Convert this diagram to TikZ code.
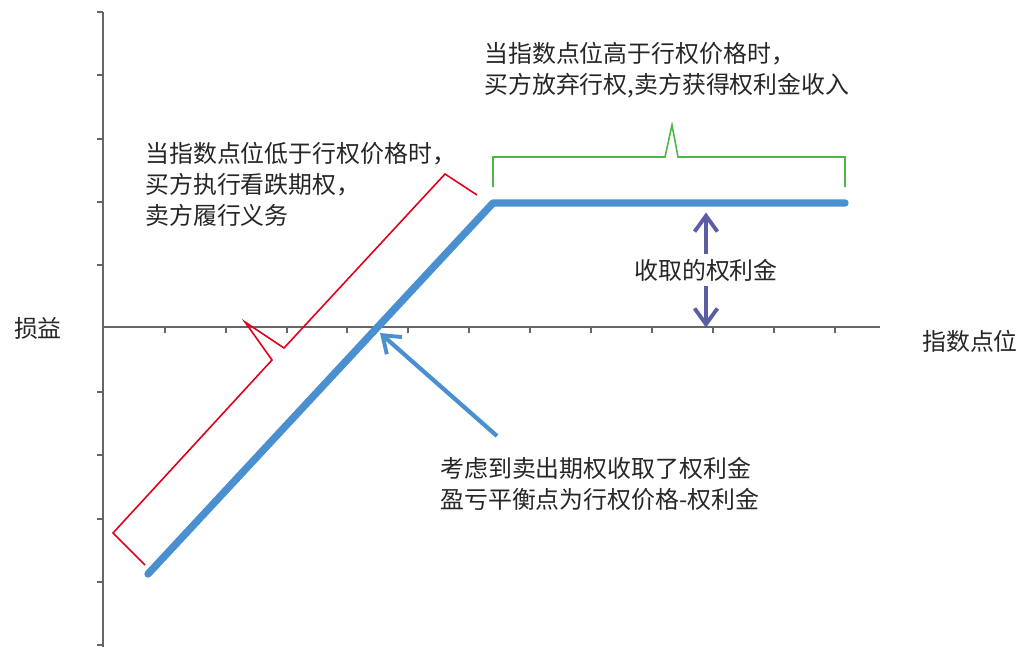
\documentclass[tikz,border=0pt]{standalone}
\usepackage{fontspec}
\setmainfont{Noto Sans CJK SC}
\usetikzlibrary{arrows.meta}
\definecolor{payoff}{HTML}{4A90D0}
\definecolor{redbr}{HTML}{E0001B}
\definecolor{greenbr}{HTML}{4CB748}
\definecolor{premium}{HTML}{5B5EA6}
\tikzset{
  axis/.style={draw=black!60,line width=.6pt},
  lbl/.style={font=\fontsize{13.6}{17.6}\selectfont,text=black!85,align=left,inner sep=0},
  bigarrow/.style={-{Straight Barb[length=9pt,width=13pt,line width=2.2pt]},line width=2.4pt}
}
\begin{document}
\begin{tikzpicture}[x=0.02cm,y=-0.02cm,>=latex]
    \useasboundingbox(0,0)rectangle(1029,657);
    % axes
    \draw[axis](103,12)--(103,647);
    \draw[axis](103,327)--(880,327);
    \foreach \t in {12,75,139,202,265,392,455,519,582,645}
        \draw[axis](97,\t)--(103,\t);
    \foreach \t in {165,226,287,347,408,469,530,591,652,713,774,835}
        \draw[axis](\t,327)--(\t,333);
    \node[lbl](yl)at(38,328){损益};
    \node[lbl](xl)at(970,341){指数点位};
    % payoff
    \coordinate(P0)at(148,574);
    \coordinate(P1)at(493,203);
    \coordinate(P2)at(845,203);
    \draw[payoff,line width=4.2pt,line cap=round,line join=round](P0)--(P1)--(P2);
    % brackets
    \draw[redbr,line width=.9pt](145,565)--(113,533)--(272,360)--(245,322)--(284,348)--(445,174)--(477,195);
    \draw[greenbr,line width=.9pt](493,187)--(493,157)--(665,157)--(672,125)--(678,157)--(845,157)--(845,187);
    % premium arrows
    \node[lbl](prem)at(706,270){收取的权利金};
    \draw[bigarrow,premium](prem.north)++(0,-4)--++(0,-42);
    \draw[bigarrow,premium](prem.south)++(0,4)--++(0,42);
    % break-even arrow
    \coordinate(BE)at(380,333);
    \coordinate(BEs)at(497,436);
    \draw[bigarrow,payoff](BEs)--(BE);
    % texts
    \node[lbl,anchor=north west](up)at(484,42){当指数点位高于行权价格时，\\买方放弃行权,卖方获得权利金收入};
    \node[lbl,anchor=north west](down)at(145,142){当指数点位低于行权价格时，\\买方执行看跌期权，\\卖方履行义务};
    \node[lbl,anchor=north west](be)at(440,457){考虑到卖出期权收取了权利金\\盈亏平衡点为行权价格-权利金};
\end{tikzpicture}
\end{document}
